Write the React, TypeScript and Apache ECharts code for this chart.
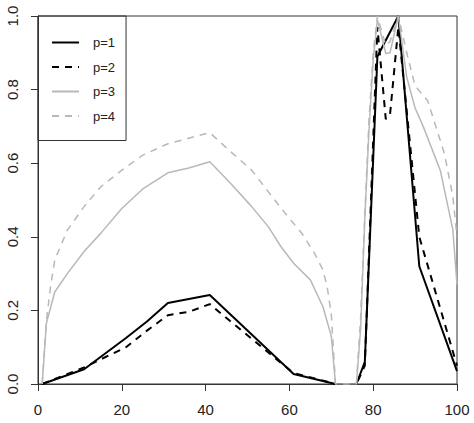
import React, { useEffect, useRef } from 'react';
import * as echarts from 'echarts';

// x/y knots, one pair of arrays per curve
const p1X = [1, 11, 21, 26, 31, 41, 61, 71, 76, 78, 81, 86, 91, 100];
const p1Y = [0, 0.04, 0.125, 0.17, 0.22, 0.242, 0.027, 0, 0, 0.06, 0.89, 1.0, 0.32, 0.035];

const p2X = [1, 11, 21, 26, 31, 36, 41, 58, 61, 71, 76, 78, 81, 83, 84, 86, 91, 100];
const p2Y = [0, 0.045, 0.1, 0.145, 0.187, 0.196, 0.217, 0.057, 0.03, 0, 0, 0.05, 0.97, 0.72, 0.73, 0.97, 0.4, 0.05];

const p3X = [1, 2, 4, 7, 11, 15, 20, 25, 31, 36, 41, 46, 51, 55, 58, 61, 65, 68, 70, 71, 76, 77, 78, 79, 80, 81, 83, 84, 86, 88, 90, 92, 96, 99, 100];
const p3Y = [0, 0.165, 0.25, 0.3, 0.36, 0.41, 0.477, 0.53, 0.574, 0.587, 0.604, 0.545, 0.482, 0.427, 0.373, 0.328, 0.283, 0.21, 0.13, 0, 0, 0.15, 0.45, 0.69, 0.88, 0.99, 0.898, 0.9, 1.0, 0.834, 0.75, 0.698, 0.581, 0.42, 0.27];

const p4X = [1, 2, 3, 4, 7, 11, 15, 20, 25, 31, 36, 41, 46, 51, 55, 59, 63, 66, 68, 69, 70, 71, 76, 77, 78, 79, 80, 81, 83, 84, 86, 88, 90, 93, 97, 99, 100];
const p4Y = [0, 0.17, 0.265, 0.337, 0.418, 0.482, 0.536, 0.581, 0.622, 0.653, 0.668, 0.683, 0.631, 0.581, 0.522, 0.464, 0.409, 0.355, 0.31, 0.265, 0.19, 0, 0, 0.18, 0.46, 0.72, 0.9, 1.0, 0.92, 0.93, 1.0, 0.9, 0.81, 0.77, 0.626, 0.51, 0.4];

const seriesNames = ['p=1', 'p=2', 'p=3', 'p=4'];

const toPairs = (xs: number[], ys: number[]) => xs.map((x, i) => [x, ys[i]]);

const App = () => {
    const chartRef = useRef<HTMLDivElement>(null);

    useEffect(() => {
        const myChart = echarts.init(chartRef.current, null, { renderer: 'svg' });

        const axisFont = { fontFamily: 'Liberation Sans', fontSize: 15, color: '#222' };
        const axisLine = { show: true, onZero: false, lineStyle: { color: '#333', width: 1 } };
        const axisTick = { show: true, inside: false, length: 7, lineStyle: { color: '#333' } };

        const option = {
            animation: false,
            grid: {
                left: 38,
                right: 17,
                top: 16,
                bottom: 39,
                show: true,
                borderColor: '#333',
                borderWidth: 1,
            },
            xAxis: {
                type: 'value',
                min: 0,
                max: 100,
                interval: 20,
                axisLine,
                axisTick,
                splitLine: { show: false },
                axisLabel: { ...axisFont, margin: 18 },
            },
            yAxis: {
                type: 'value',
                min: 0,
                max: 1,
                interval: 0.2,
                axisLine,
                axisTick,
                splitLine: { show: false },
                axisLabel: {
                    ...axisFont,
                    rotate: 90,
                    margin: 18,
                    formatter: (v: number) => v.toFixed(1),
                },
            },
            legend: {
                orient: 'vertical',
                left: 38,
                top: 16,
                padding: [20, 11, 18, 13],
                borderColor: '#333',
                borderWidth: 1,
                itemWidth: 27,
                itemHeight: 14,
                itemGap: 11.5,
                itemStyle: { opacity: 0 },
                data: seriesNames,
                textStyle: {
                    fontFamily: 'Liberation Sans',
                    fontSize: 13,
                    color: '#222',
                    padding: [0, 0, 0, 9],
                },
            },
            series: [
                {
                    name: 'p=1',
                    type: 'line',
                    data: toPairs(p1X, p1Y),
                    symbol: 'none',
                    lineStyle: { color: '#000', width: 2 },
                    itemStyle: { color: '#000' },
                },
                {
                    name: 'p=2',
                    type: 'line',
                    data: toPairs(p2X, p2Y),
                    symbol: 'none',
                    lineStyle: { color: '#000', width: 2, type: [7, 6] },
                    itemStyle: { color: '#000' },
                },
                {
                    name: 'p=3',
                    type: 'line',
                    data: toPairs(p3X, p3Y),
                    symbol: 'none',
                    lineStyle: { color: '#b8b8b8', width: 1.5 },
                    itemStyle: { color: '#b8b8b8' },
                },
                {
                    name: 'p=4',
                    type: 'line',
                    data: toPairs(p4X, p4Y),
                    symbol: 'none',
                    lineStyle: { color: '#b8b8b8', width: 1.5, type: [7, 6] },
                    itemStyle: { color: '#b8b8b8' },
                },
            ],
        };

        myChart.setOption(option);

        return () => {
            myChart.dispose();
        };
    }, []);

    return (
        <div
            ref={chartRef}
            style={{ position: 'absolute', left: 0, top: 0, width: '474px', height: '423px', background: '#fff' }}
        />
    );
};

export default App;
